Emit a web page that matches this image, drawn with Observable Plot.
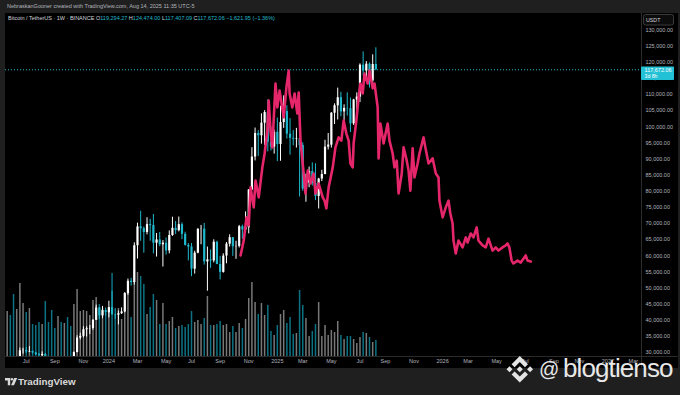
<!DOCTYPE html>
<html>
<head>
<meta charset="utf-8">
<script src="https://cdn.jsdelivr.net/npm/d3@7"></script>
<script src="https://cdn.jsdelivr.net/npm/@observablehq/plot@0.6"></script>
<style>
html,body{margin:0;padding:0;background:#1f1f1f;}
#wrap{position:relative;width:680px;height:395px;overflow:hidden;font-family:"Liberation Sans",Arial,sans-serif;}
#panel{position:absolute;left:4.5px;top:12.5px;width:673px;height:355px;background:#000;}
.layer{position:absolute;left:0;top:0;}
.layer svg{display:block;}
</style>
</head>
<body>
<div id="wrap">
  <div id="panel"></div>
  <div id="vol" class="layer"></div>
  <div id="main" class="layer"></div>
  <div id="over" class="layer"></div>
</div>
<script>
// ---- data (BTC/USDT weekly, Binance; prices in thousands USDT) ----
const weekStart = "2023-05-22";
const openK = [26.85,28.08,27.20,25.90,26.34,30.54,30.59,30.17,30.30,29.86,29.31,29.05,29.40,26.10,26.00,25.80,25.70,26.50,26.20,27.97,27.90,26.85,29.99,34.50,35.00,37.06,37.36,37.45,39.97,43.80,41.36,43.00,42.30,43.90,41.73,41.58,42.03,42.58,48.30,52.10,51.70,63.10,68.95,68.40,67.20,69.65,69.36,63.90,64.90,63.40,63.90,61.50,66.27,68.50,67.77,69.65,66.64,63.20,62.70,55.85,60.80,68.20,68.25,58.10,58.70,58.40,64.20,57.30,54.85,59.90,63.60,65.60,62.80,62.90,69.00,68.00,68.70,80.40,90.60,97.90,97.20,101.10,104.40,95.20,93.70,98.30,94.50,101.30,104.70,97.70,96.40,96.10,96.25,94.20,80.70,82.60,86.10,82.40,78.40,83.80,85.20,93.70,94.30,104.20,106.50,109.00,104.60,105.70,105.60,100.90,108.30,109.20,119.10,117.30,119.40,114.20,119.29427];
const highK = [28.45,28.45,27.40,26.80,31.40,31.30,31.50,31.80,30.40,29.99,29.70,30.20,29.70,26.80,28.15,26.40,27.50,27.48,28.60,28.60,27.90,30.20,35.20,35.98,37.98,37.98,38.40,40.20,44.70,44.00,44.30,43.80,45.90,48.97,43.60,42.85,43.85,48.60,52.80,52.98,64.00,70.10,73.80,68.90,71.80,71.30,72.80,66.90,67.20,64.70,65.50,67.70,71.95,70.60,72.00,70.20,67.30,63.80,63.80,61.40,68.40,69.40,70.00,62.70,61.80,64.95,64.50,59.80,60.60,64.10,66.50,65.60,64.50,69.40,69.50,73.60,80.50,93.50,99.60,98.80,104.00,105.00,108.35,99.90,99.00,102.70,106.40,109.60,106.50,102.50,98.80,99.50,96.50,95.00,85.30,87.50,88.80,88.50,84.00,86.50,95.80,97.90,104.40,107.10,111.98,110.70,106.80,110.50,108.90,108.50,110.50,119.50,123.20,120.20,119.80,122.30,124.474];
const lowK = [26.10,26.50,25.35,24.80,26.25,29.50,29.70,29.95,29.50,29.10,28.60,28.70,25.20,25.80,25.40,24.90,24.90,26.00,26.00,27.20,26.50,26.80,29.90,33.90,34.50,34.80,35.60,36.90,39.97,40.20,40.50,41.30,40.75,41.50,40.30,38.55,41.80,42.30,47.70,50.60,50.90,59.00,64.50,60.80,66.50,64.50,60.60,59.60,62.80,56.50,60.20,60.60,66.00,66.60,67.40,65.00,63.00,58.40,53.50,54.30,60.60,63.40,57.10,49.00,56.10,57.80,57.20,52.50,54.60,57.50,62.70,59.80,58.90,62.40,65.10,67.50,66.80,80.20,89.40,90.80,94.60,94.20,92.20,92.50,91.50,89.20,89.30,99.50,96.20,91.20,94.10,93.40,78.20,80.00,76.60,81.10,81.60,77.10,74.50,83.00,85.10,92.80,93.40,100.70,102.10,103.10,100.40,103.30,98.20,100.40,105.10,107.50,115.70,114.70,112.00,112.60,117.40709];
const closeK = [28.08,27.20,25.90,26.34,30.54,30.59,30.17,30.30,29.86,29.31,29.05,29.40,26.10,26.00,25.80,25.70,26.50,26.20,27.97,27.90,26.85,29.99,34.50,35.00,37.06,37.36,37.45,39.97,43.80,41.36,43.00,42.30,43.90,41.73,41.58,42.03,42.58,48.30,52.10,51.70,63.10,68.95,68.40,67.20,69.65,69.36,63.90,64.90,63.40,63.90,61.50,66.27,68.50,67.77,69.65,66.64,63.20,62.70,55.85,60.80,68.20,68.25,58.10,58.70,58.40,64.20,57.30,54.85,59.90,63.60,65.60,62.80,62.90,69.00,68.00,68.70,80.40,90.60,97.90,97.20,101.10,104.40,95.20,93.70,98.30,94.50,101.30,104.70,97.70,96.40,96.10,96.25,94.20,80.70,82.60,86.10,82.40,78.40,83.80,85.20,93.70,94.30,104.20,106.50,109.00,104.60,105.70,105.60,100.90,108.30,109.20,119.10,117.30,119.40,114.20,119.29427,117.67206];
// weekly volume (thousand BTC)
const volumeK = [225,205,310,235,365,265,220,240,160,155,170,160,275,170,230,140,200,170,165,195,150,260,335,225,230,225,205,280,295,260,240,215,245,415,210,240,185,310,355,195,430,420,400,360,210,245,310,280,160,265,160,175,195,140,150,155,145,160,225,170,180,160,190,300,155,155,160,175,155,160,120,150,120,165,140,185,290,370,270,210,265,205,255,125,105,155,210,230,165,195,110,115,330,255,190,100,125,160,270,100,155,105,130,120,175,105,85,100,100,85,65,95,120,115,95,70,80];
// overlaid fractal projection (pink line), prices in thousands
const fractalDates = ["2024-10-17","2024-10-24","2024-10-30","2024-11-04","2024-11-08","2024-11-15","2024-11-19","2024-11-26","2024-12-04","2024-12-09","2024-12-15","2024-12-18","2024-12-22","2024-12-26","2025-01-02","2025-01-06","2025-01-11","2025-01-20","2025-01-26","2025-01-31","2025-02-02","2025-02-08","2025-02-13","2025-02-19","2025-02-22","2025-02-26","2025-03-05","2025-03-09","2025-03-14","2025-03-20","2025-03-27","2025-03-31","2025-04-07","2025-04-16","2025-04-20","2025-04-24","2025-04-29","2025-05-08","2025-05-14","2025-05-21","2025-05-27","2025-06-01","2025-06-07","2025-06-12","2025-06-16","2025-06-21","2025-06-23","2025-06-29","2025-07-04","2025-07-08","2025-07-13","2025-07-17","2025-07-24","2025-07-28","2025-08-04","2025-08-08","2025-08-15","2025-08-17","2025-08-21","2025-08-28","2025-09-06","2025-09-10","2025-09-17","2025-09-21","2025-09-26","2025-09-30","2025-10-07","2025-10-11","2025-10-18","2025-10-22","2025-10-26","2025-10-31","2025-11-04","2025-11-11","2025-11-15","2025-11-24","2025-11-28","2025-12-05","2025-12-14","2025-12-21","2025-12-27","2025-12-29","2026-01-05","2026-01-12","2026-01-18","2026-01-22","2026-01-27","2026-01-29","2026-02-03","2026-02-09","2026-02-18","2026-02-25","2026-03-01","2026-03-08","2026-03-14","2026-03-21","2026-03-25","2026-04-03","2026-04-10","2026-04-16","2026-04-25","2026-05-02","2026-05-08","2026-05-17","2026-05-24","2026-05-28","2026-06-01","2026-06-06","2026-06-10","2026-06-19","2026-06-26","2026-07-02","2026-07-07","2026-07-11","2026-07-18"];
const fractalPricesK = [60.1,64.7,71.9,69.4,81.2,75.0,83.3,78.1,87.4,91.7,98.8,108.1,98.8,93.6,113.4,106.0,111.2,102.9,112.2,117.4,110.3,106.0,110.3,104.1,110.6,95.7,85.5,79.3,86.4,82.4,85.5,79.3,82.4,78.1,77.1,74.7,81.2,87.4,93.6,96.7,95.7,101.9,97.9,95.7,88.6,87.4,94.8,101.9,109.1,113.4,110.3,116.5,113.4,117.4,111.9,113.4,106.0,90.2,101.0,94.8,101.0,95.7,91.7,87.4,89.5,79.3,85.5,93.6,89.5,86.4,80.2,93.3,84.3,88.6,91.7,96.7,93.6,88.6,90.2,85.5,84.3,77.1,71.9,75.0,77.1,73.1,70.0,64.7,60.7,64.7,62.6,65.7,64.1,66.9,65.7,68.8,64.7,63.2,62.6,65.3,61.6,62.6,61.6,62.6,63.2,63.8,62.6,58.5,57.6,58.5,57.9,59.1,60.1,58.5,58.2];
// axis ticks
const xTickDates = ["2023-07-03","2023-09-04","2023-11-06","2024-01-01","2024-03-04","2024-05-06","2024-07-01","2024-09-02","2024-11-04","2025-01-06","2025-03-03","2025-05-05","2025-07-07","2025-09-01","2025-11-03","2026-01-05","2026-03-02","2026-05-04","2026-07-06","2026-09-07","2026-11-02","2027-01-04","2027-03-01"];
const xTickLabels = ["Jul","Sep","Nov","2024","Mar","May","Jul","Sep","Nov","2025","Mar","May","Jul","Sep","Nov","2026","Mar","May","Jul","Sep","Nov","2027","Mar"];
const yTicks = [30000,35000,40000,45000,50000,55000,60000,65000,70000,75000,80000,85000,90000,95000,100000,105000,110000,115000,120000,125000,130000];
const lastClose = 117672.06;
const headerLine = "NebraskanGooner created with TradingView.com, Aug 14, 2025 11:35 UTC-5";
const symbolText = "Bitcoin / TetherUS · 1W · BINANCE";
const ohlcLabels = ["O","H","L","C",""];
const ohlcValues = ["119,294.27","124,474.00","117,407.09","117,672.06","−1,621.95 (−1.36%)"];

// ---- build ----
const bars = openK.map((o, i) => {
  const d = {
    date: d3.utcDay.offset(new Date(weekStart), 7 * i),
    open: o * 1000, high: highK[i] * 1000, low: lowK[i] * 1000, close: closeK[i] * 1000,
    volume: volumeK[i]
  };
  d.up = d.close >= d.open;
  return d;
});
const fractal = fractalDates.map((t, i) => ({date: new Date(t), price: fractalPricesK[i] * 1000}));
const labelMap = new Map(xTickDates.map((t, i) => [+new Date(t), xTickLabels[i]]));

const W = 680, H = 395;
const M = {left: 5, right: 39, top: 13, bottom: 39};
const xDomain = [new Date("2023-05-18T08:00:00Z"), new Date("2027-03-19T00:00:00Z")];
const yDomain = [28760, 135116];
const UP = "#ffffff", DOWN = "#1fb8cc";
const font = "'Liberation Sans', Arial, sans-serif";

const volPlot = Plot.plot({
  width: W, height: H,
  marginLeft: M.left, marginRight: M.right, marginTop: M.top, marginBottom: M.bottom,
  style: {background: "transparent"},
  x: {type: "utc", domain: xDomain, axis: null},
  y: {domain: [0, 1715], axis: null},
  marks: [
    Plot.ruleX(bars, {x: "date", y1: 0, y2: "volume", stroke: d => d.up ? "#787878" : "#0d7384", strokeWidth: 1.5})
  ]
});
document.getElementById("vol").appendChild(volPlot);

const main = Plot.plot({
  width: W, height: H,
  marginLeft: M.left, marginRight: M.right, marginTop: M.top, marginBottom: M.bottom,
  style: {background: "transparent", color: "#b2b5be", fontFamily: font, fontSize: "5.5px", overflow: "visible"},
  x: {type: "utc", domain: xDomain},
  y: {domain: yDomain},
  marks: [
    Plot.ruleY([lastClose], {stroke: "#1fb8cc", strokeWidth: 1, strokeDasharray: "1,2"}),
    Plot.ruleX(bars, {x: "date", y1: "low", y2: "high", stroke: d => d.up ? UP : DOWN, strokeWidth: 1, clip: true}),
    Plot.ruleX(bars, {x: "date", y1: d => Math.min(d.open, d.close), y2: d => Math.max(d.open, d.close), stroke: d => d.up ? UP : DOWN, strokeWidth: 2.2, clip: true}),
    Plot.line(fractal, {x: "date", y: "price", stroke: "#e5266a", strokeWidth: 2.6, strokeLinejoin: "round", clip: true}),
    Plot.axisY({anchor: "right", ticks: yTicks, tickFormat: d3.format(",.2f"), tickSize: 0, tickPadding: 4}),
    Plot.axisX({ticks: xTickDates.map(t => new Date(t)), tickFormat: d => labelMap.get(+d), tickSize: 0, tickPadding: 2.5})
  ]
});
document.getElementById("main").appendChild(main);

// ---- overlay: borders, header, price tags, footer ----
const yS = main.scale("y");
const over = d3.select("#over").append("svg").attr("width", W).attr("height", H).style("font-family", font);
// panel borders
over.append("line").attr("x1", 4.5).attr("x2", 677.5).attr("y1", 356.5).attr("y2", 356.5).attr("stroke", "#2b2b2b");
over.append("line").attr("x1", 641.5).attr("x2", 641.5).attr("y1", 12.5).attr("y2", 367.5).attr("stroke", "#2b2b2b");
// header
over.append("text").attr("x", 7).attr("y", 7.6).attr("font-size", 5.5).attr("fill", "#b2b5be").text(headerLine);
const sym = over.append("text").attr("x", 8).attr("y", 20).attr("font-size", 5.5).attr("fill", "#d1d4dc");
sym.append("tspan").text(symbolText + "  ");
ohlcLabels.forEach((l, i) => {
  sym.append("tspan").attr("fill", "#d1d4dc").text((i ? "  " : " ") + l);
  sym.append("tspan").attr("fill", "#22b8cc").text(ohlcValues[i]);
});
// USDT box
over.append("rect").attr("x", 643.5).attr("y", 14.5).attr("width", 30).attr("height", 10.5).attr("rx", 2)
  .attr("fill", "#0c0c0c").attr("stroke", "#3a3a3a");
over.append("text").attr("x", 646).attr("y", 21.8).attr("font-size", 5.3).attr("fill", "#d1d4dc").text("USDT");
// last price tag
const py = yS.apply(lastClose);
over.append("rect").attr("x", 641).attr("y", py - 2.7).attr("width", 33).attr("height", 13.4).attr("rx", 1).attr("fill", "#22c1d6");
over.append("text").attr("x", 644.5).attr("y", py + 2.9).attr("font-size", 5.5).attr("fill", "#ffffff").text(d3.format(",.2f")(lastClose));
over.append("text").attr("x", 644.5).attr("y", py + 9.0).attr("font-size", 5.2).attr("fill", "#ffffff").text("3d 8h");
// footer TradingView logo
const tv = over.append("g").attr("transform", "translate(5,378)").attr("fill", "#d9d9d9");
tv.append("path").attr("d", "M0 0h5.2v7.2h-2.4v-4.8h-2.8z");
tv.append("circle").attr("cx", 6.9).attr("cy", 1.3).attr("r", 1.3);
tv.append("path").attr("d", "M9.2 0h3l-3.2 7.2h-2.9z");
over.append("text").attr("x", 18).attr("y", 385.3).attr("font-size", 9.8).attr("font-weight", "bold").attr("fill", "#d9d9d9").text("TradingView");
// watermark
const bn = over.append("g").attr("transform", "translate(506.5,356) scale(0.21)").attr("fill", "#e4e4e4");
["M38.73 53.2L63.32 28.62 87.92 53.22 102.22 38.91 63.32 0 24.42 38.9Z",
 "M38.73 73.41L63.32 98 87.92 73.4 102.22 87.71 63.32 126.61 24.42 87.71Z",
 "M0 63.31L14.3 49.01 28.6 63.31 14.3 77.61Z",
 "M98 63.31L112.3 49.01 126.6 63.31 112.3 77.61Z",
 "M63.32 48.8L77.82 63.3 63.32 77.8 48.82 63.3Z"].forEach(d => bn.append("path").attr("d", d));
over.append("text").attr("x", 539).attr("y", 375.5).attr("font-size", 20).attr("fill", "#e8e8e8").text("@");
over.append("text").attr("x", 563).attr("y", 377).attr("font-size", 26).attr("letter-spacing", -0.9).attr("fill", "#e8e8e8").text("blogtienso");
</script>
</body>
</html>
